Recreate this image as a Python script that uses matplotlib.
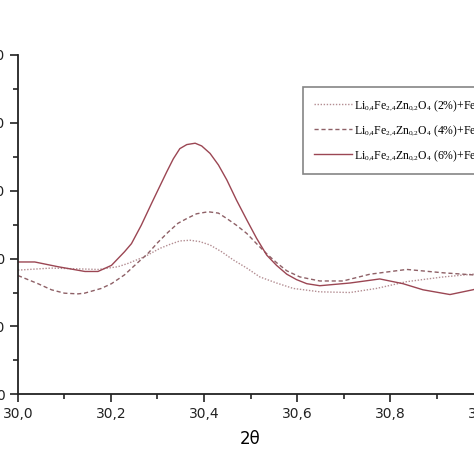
import matplotlib
matplotlib.use("Agg")
import matplotlib.pyplot as plt
import matplotlib._mathtext as mathtext_internal
from matplotlib.ticker import MultipleLocator, FixedLocator

# XRD detail around 30-31 deg
x_2 = [30.000, 30.072, 30.172, 30.215, 30.237, 30.273, 30.305, 30.327, 30.348,
       30.370, 30.391, 30.413, 30.438, 30.463, 30.492, 30.520, 30.556, 30.592,
       30.649, 30.714, 30.771, 30.836, 30.915, 30.978, 31.000]
y_2 = [183, 186, 184, 188, 193, 203, 215, 221, 226,
       227, 225, 220, 210, 198, 186, 173, 164, 156,
       151, 150, 156, 166, 173, 177, 178]

x_4 = [30.000, 30.043, 30.072, 30.100, 30.129, 30.143, 30.179, 30.201, 30.229,
       30.251, 30.280, 30.301, 30.323, 30.344, 30.363, 30.384, 30.409, 30.431,
       30.449, 30.470, 30.492, 30.513, 30.535, 30.556, 30.578, 30.606, 30.649,
       30.699, 30.757, 30.836, 30.915, 30.978, 31.000]
y_4 = [175, 163, 154, 149, 148, 149, 156, 163, 176,
       190, 208, 224, 239, 252, 259, 266, 269, 267,
       259, 249, 237, 222, 207, 194, 182, 173, 167,
       167, 177, 184, 179, 176, 175]

x_6 = [30.000, 30.036, 30.086, 30.144, 30.172, 30.201, 30.229, 30.244, 30.265,
       30.287, 30.301, 30.320, 30.334, 30.348, 30.363, 30.381, 30.395, 30.413,
       30.431, 30.449, 30.470, 30.492, 30.513, 30.535, 30.556, 30.578, 30.599,
       30.621, 30.649, 30.714, 30.757, 30.778, 30.828, 30.871, 30.929, 30.978,
       31.000]
y_6 = [195, 195, 188, 181, 181, 190, 210, 222, 249,
       281, 301, 328, 347, 362, 368, 370, 366, 355,
       338, 316, 286, 257, 230, 205, 190, 177, 169,
       163, 160, 164, 168, 170, 163, 154, 147, 154,
       158]

labels = [r'Li$_{0{,}4}$Fe$_{2{,}4}$Zn$_{0{,}2}$O$_4$ (2%)+Fe$_2$O$_3$',
          r'Li$_{0{,}4}$Fe$_{2{,}4}$Zn$_{0{,}2}$O$_4$ (4%)+Fe$_2$O$_3$',
          r'Li$_{0{,}4}$Fe$_{2{,}4}$Zn$_{0{,}2}$O$_4$ (6%)+Fe$_2$O$_3$']

xticks = [30.0, 30.2, 30.4, 30.6, 30.8, 31.0]
xtick_labels = ['30,0', '30,2', '30,4', '30,6', '30,8', '31,0']
yticks = [0, 100, 200, 300, 400, 500]
ytick_labels = ['0', '100', '200', '300', '400', '500']

plt.rcParams['mathtext.fontset'] = 'custom'
plt.rcParams['mathtext.rm'] = 'Liberation Serif'
plt.rcParams['mathtext.it'] = 'Liberation Serif:italic'
# the original legend uses small subscripts
mathtext_internal.SHRINK_FACTOR = 0.62

fig = plt.figure(figsize=(4.74, 4.74), dpi=100)
ax = fig.add_axes([18 / 474, 79.7 / 474, 465 / 474, 339.3 / 474])

ax.plot(x_2, y_2, color='#b38d92', linestyle=(0, (1, 1.2)), linewidth=1.0, label=labels[0])
ax.plot(x_4, y_4, color='#8e6066', linestyle=(0, (3, 2)), linewidth=1.0, label=labels[1])
ax.plot(x_6, y_6, color='#9b4653', linestyle='-', linewidth=1.0, label=labels[2])

ax.set_xlim(30.0, 31.0)
ax.set_ylim(0, 500)
ax.xaxis.set_major_locator(FixedLocator(xticks))
ax.set_xticklabels(xtick_labels)
ax.xaxis.set_minor_locator(MultipleLocator(0.1))
ax.yaxis.set_major_locator(FixedLocator(yticks))
ax.set_yticklabels(ytick_labels)
ax.yaxis.set_minor_locator(MultipleLocator(50))

for side in ['top', 'right']:
    ax.spines[side].set_visible(False)
for side in ['left', 'bottom']:
    ax.spines[side].set_linewidth(1.3)
    ax.spines[side].set_color('#222222')

ax.tick_params(which='major', direction='out', length=6, width=1.2, labelsize=10, colors='#222222')
ax.tick_params(which='minor', direction='out', length=3.5, width=1.2, colors='#222222')

ax.set_xlabel('2θ', fontsize=12, labelpad=6)

leg = ax.legend(loc='upper left', bbox_to_anchor=(285 / 465, 307.3 / 339.3),
                prop={'family': 'Liberation Serif', 'size': 8.5},
                frameon=True, fancybox=False, handlelength=3.2, handletextpad=0.15,
                labelspacing=0.85, borderpad=0.95, borderaxespad=0)
leg.get_frame().set_edgecolor('#666666')
leg.get_frame().set_linewidth(1.2)

fig.savefig('out.png', dpi=100)
